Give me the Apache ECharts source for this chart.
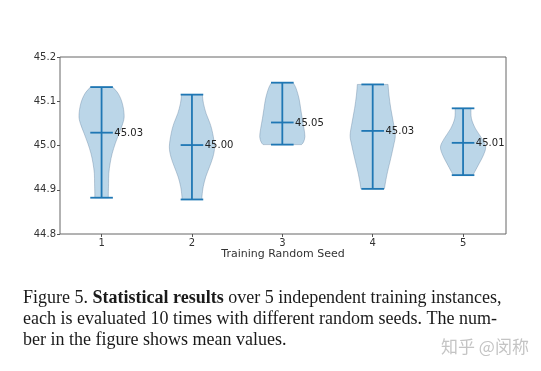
<!DOCTYPE html>
<html>
<head>
<meta charset="utf-8">
<script src="https://cdn.jsdelivr.net/npm/echarts@6/dist/echarts.min.js"></script>
<style>html,body{margin:0;padding:0;background:#fff;}#c{width:541px;height:371px;}</style>
</head>
<body>
<div id="c"></div>
<script>
// ---- data ----
var categories = [1, 2, 3, 4, 5];
var means = [45.029, 45.001, 45.052, 45.033, 45.006];
var mins = [44.882, 44.878, 45.002, 44.902, 44.933];
var maxs = [45.132, 45.115, 45.142, 45.138, 45.084];
var yTicks = [44.8, 44.9, 45.0, 45.1, 45.2];
// violin outlines: [value, relative half-width], top to bottom
var profile1 = [[45.132,0.49],[45.117,0.74],[45.095,0.92],[45.068,1.0],[45.050,0.94],[45.027,0.77],[45.005,0.61],[44.982,0.47],[44.960,0.38],[44.937,0.32],[44.914,0.31],[44.892,0.30],[44.882,0.30]];
var profile2 = [[45.115,0.46],[45.095,0.51],[45.072,0.63],[45.050,0.80],[45.027,0.92],[44.997,1.0],[44.974,0.93],[44.952,0.78],[44.929,0.61],[44.907,0.50],[44.888,0.45],[44.878,0.44]];
var profile3 = [[45.142,0.48],[45.129,0.61],[45.106,0.74],[45.084,0.81],[45.061,0.88],[45.038,0.96],[45.020,1.0],[45.008,0.94],[45.002,0.85]];
var profile4 = [[45.138,0.68],[45.114,0.72],[45.084,0.80],[45.053,0.91],[45.023,1.0],[45.001,0.93],[44.971,0.80],[44.941,0.66],[44.918,0.57],[44.902,0.52]];
var profile5 = [[45.084,0.35],[45.061,0.37],[45.038,0.55],[45.016,0.83],[44.997,1.0],[44.978,0.90],[44.960,0.72],[44.941,0.52],[44.933,0.44]];
var profiles = [profile1, profile2, profile3, profile4, profile5];
var xAxisName = 'Training Random Seed';
var captionLines = [
  'Figure 5. {b|Statistical results} over 5 independent training instances,',
  'each is evaluated 10 times with different random seeds. The num-',
  'ber in the figure shows mean values.'
];
var watermark = '知乎 @闵称';

var VIOLIN_HALF = 0.25, CAP_HALF = 0.125;
var C0 = '#1f77b4';

var seriesData = categories.map(function (c, i) {
  return [c, means[i], mins[i], maxs[i], i];
});

// smooth curve through pixel points (Catmull-Rom -> cubic bezier)
function curveThrough(pts) {
  var d = '';
  for (var i = 0; i < pts.length - 1; i++) {
    var p0 = pts[Math.max(i - 1, 0)], p1 = pts[i], p2 = pts[i + 1], p3 = pts[Math.min(i + 2, pts.length - 1)];
    var c1x = p1[0] + (p2[0] - p0[0]) / 6, c1y = p1[1] + (p2[1] - p0[1]) / 6;
    var c2x = p2[0] - (p3[0] - p1[0]) / 6, c2y = p2[1] - (p3[1] - p1[1]) / 6;
    d += ' C' + c1x + ' ' + c1y + ' ' + c2x + ' ' + c2y + ' ' + p2[0] + ' ' + p2[1];
  }
  return d;
}

function renderItem(params, api) {
  var pos = api.value(0), mean = api.value(1), mn = api.value(2), mx = api.value(3);
  var idx = api.value(4);
  var prof = profiles[idx];
  var right = [], left = [];
  prof.forEach(function (p) { right.push(api.coord([pos + p[1] * VIOLIN_HALF, p[0]])); });
  for (var k = prof.length - 1; k >= 0; k--) {
    left.push(api.coord([pos - prof[k][1] * VIOLIN_HALF, prof[k][0]]));
  }
  var d = 'M' + right[0][0] + ' ' + right[0][1] + curveThrough(right) +
          ' L' + left[0][0] + ' ' + left[0][1] + curveThrough(left) + ' Z';
  var top = api.coord([pos, mx]), bot = api.coord([pos, mn]), mid = api.coord([pos, mean]);
  var capL = api.coord([pos - CAP_HALF, mx])[0], capR = api.coord([pos + CAP_HALF, mx])[0];
  var lineStyle = { stroke: C0, lineWidth: 1.8 };
  return {
    type: 'group',
    children: [
      { type: 'path', shape: { pathData: d },
        style: { fill: 'rgba(31,119,180,0.3)', stroke: 'rgba(90,120,150,0.45)', lineWidth: 0.8 } },
      { type: 'line', shape: { x1: top[0], y1: top[1], x2: bot[0], y2: bot[1] }, style: lineStyle },
      { type: 'line', shape: { x1: capL, y1: top[1], x2: capR, y2: top[1] }, style: lineStyle },
      { type: 'line', shape: { x1: capL, y1: bot[1], x2: capR, y2: bot[1] }, style: lineStyle },
      { type: 'line', shape: { x1: capL, y1: mid[1], x2: capR, y2: mid[1] }, style: lineStyle },
      { type: 'text', x: capR + 1.5, y: mid[1] + 0.5,
        style: { text: mean.toFixed(2), fill: '#222', font: '10px "DejaVu Sans"', verticalAlign: 'middle', align: 'left' } }
    ]
  };
}

var chart = echarts.init(document.getElementById('c'), null, { renderer: 'canvas' });
chart.setOption({
  backgroundColor: '#fff',
  animation: false,
  grid: { left: 60, top: 57, width: 446, height: 177, show: true, borderColor: '#666', borderWidth: 1, backgroundColor: 'transparent' },
  xAxis: {
    type: 'value', min: 0.54, max: 5.475,
    name: xAxisName, nameLocation: 'middle', nameGap: 13,
    nameTextStyle: { fontFamily: 'DejaVu Sans', fontSize: 11, color: '#333' },
    splitLine: { show: false },
    axisLine: { show: false },
    axisTick: { show: true, length: 3, customValues: categories, lineStyle: { color: '#555' } },
    axisLabel: { customValues: categories, margin: 4, fontFamily: 'DejaVu Sans', fontSize: 10, color: '#333',
      formatter: function (v) { return String(v); } }
  },
  yAxis: {
    type: 'value', min: 44.8, max: 45.2, interval: 0.1,
    splitLine: { show: false },
    axisLine: { show: false },
    axisTick: { show: true, length: 3, lineStyle: { color: '#555' } },
    axisLabel: { margin: 4, fontFamily: 'DejaVu Sans', fontSize: 10, color: '#333',
      customValues: yTicks, formatter: function (v) { return v.toFixed(1); } }
  },
  series: [{
    type: 'custom',
    renderItem: renderItem,
    data: seriesData,
    encode: { x: 0, y: [1, 2, 3] },
    clip: false,
    z: 2
  }],
  graphic: [
    { type: 'text', left: 23, top: 289, style: { text: captionLines[0], font: '18px "Liberation Serif"', fill: '#1a1a1a',
        rich: { b: { fontWeight: 'bold', fontSize: 18, fontFamily: 'Liberation Serif', fill: '#1a1a1a' } } } },
    { type: 'text', left: 23, top: 310, style: { text: captionLines[1], font: '18px "Liberation Serif"', fill: '#1a1a1a' } },
    { type: 'text', left: 23, top: 331, style: { text: captionLines[2], font: '18px "Liberation Serif"', fill: '#1a1a1a' } },
    { type: 'text', left: 441, top: 338, style: { text: watermark, font: '17px "Noto Sans CJK SC"', fill: '#c4c4c4' } }
  ]
});
</script>
</body>
</html>
